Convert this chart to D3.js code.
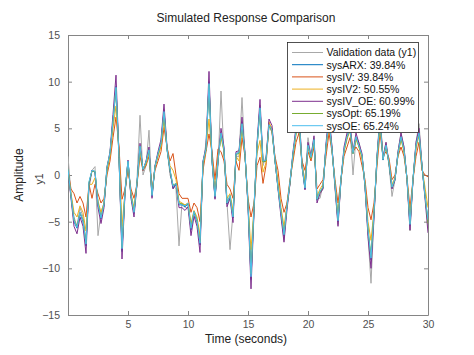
<!DOCTYPE html>
<html><head><meta charset="utf-8">
<script src="https://cdn.jsdelivr.net/npm/d3@7"></script>
<style>
html,body{margin:0;padding:0;background:#fff;}
svg{display:block;font-family:"Liberation Sans",Arial,sans-serif;}
</style></head>
<body><svg id="c" width="474" height="355"></svg>
<script>
// time grid (seconds), 0.25 s step
const time = d3.range(0, 121).map(i => i * 0.25);
const xTicks = [5, 10, 15, 20, 25, 30];
const yTicks = [-15, -10, -5, 0, 5, 10, 15];
const seriesNames = ["Validation data (y1)", "sysARX: 39.84%", "sysIV: 39.84%", "sysIV2: 50.55%", "sysIV_OE: 60.99%", "sysOpt: 65.19%", "sysOE: 65.24%"];
const seriesColors = ["#a8a8a8", "#0072BD", "#D95319", "#EDB120", "#7E2F8E", "#77AC30", "#4DBEEE"];

const validation = [
 2.0,-2.0,-4.5,-5.5,-3.5,-4.5,-7.0,-1.5,0.5,0.9,
 -6.5,-4.0,-3.0,1.0,2.0,6.0,9.0,2.5,-8.0,-1.5,
 1.5,-2.0,-4.0,-0.5,6.4,0.0,1.0,4.8,-2.0,1.0,
 2.0,3.5,7.0,3.0,0.0,-1.0,-1.5,-7.6,-3.0,-3.5,
 -3.5,-5.5,-4.0,-5.0,-7.0,1.0,3.5,9.5,2.0,-2.5,
 1.0,9.0,2.0,-3.0,-8.0,-4.0,2.0,2.0,8.3,2.0,
 -3.0,-11.0,-4.0,3.0,7.5,1.0,2.0,5.5,5.0,1.5,
 -1.0,-4.0,-7.0,-3.0,-1.0,2.0,5.0,6.5,1.5,-1.0,
 4.0,2.0,4.0,-2.5,-2.5,-1.0,3.0,6.0,3.0,-1.5,
 -5.3,-0.5,2.5,4.0,5.0,0.0,4.0,3.5,2.0,-1.0,
 -6.5,-11.6,-4.5,2.0,6.0,2.0,3.5,1.0,-2.3,-0.5,
 2.5,4.5,3.0,-0.5,-6.0,-0.5,3.5,5.5,1.0,-2.0,
 -5.5];
const sysARX = [
 0.5,-2.3,-5.0,-5.7,-4.1,-5.0,-7.6,-0.9,0.5,0.3,
 -3.2,-4.7,-3.2,0.7,2.3,5.9,9.5,1.8,-8.2,-1.8,
 1.5,-2.3,-4.1,-0.9,3.1,0.5,1.4,2.7,-2.3,0.9,
 2.3,3.4,6.9,2.7,0.5,-1.4,-0.9,-3.2,-3.2,-3.4,
 -3.1,-5.9,-4.0,-5.0,-7.5,1.4,2.7,10.0,1.5,-2.4,
 1.5,4.5,2.7,-3.1,-2.3,-4.6,2.3,2.4,5.6,2.1,
 -3.1,-11.2,-3.6,3.1,7.3,1.4,1.5,5.4,4.8,1.5,
 -1.4,-4.1,-6.5,-3.4,-0.8,2.3,4.6,6.3,0.9,-1.5,
 3.2,1.8,3.8,-2.7,-1.8,-1.4,3.1,5.9,2.7,-1.1,
 -5.0,-0.5,2.7,4.1,5.0,2.3,4.1,3.1,2.1,-1.2,
 -6.0,-9.1,-4.1,1.8,5.9,1.6,3.2,1.2,-1.4,-0.5,
 2.3,4.1,2.7,-0.5,-5.4,-0.5,3.2,4.5,0.9,-2.3,
 -5.0];
const sysIV = [
 0.5,-1.5,-2.0,-3.0,-2.3,-3.0,-4.5,-1.0,-2.5,-1.0,
 -2.0,-3.0,-2.5,0.0,1.5,4.0,6.2,3.0,-2.6,-1.5,
 0.5,-1.5,-2.5,-1.0,2.0,0.5,1.0,2.0,-1.5,0.5,
 1.5,2.5,5.1,3.0,1.5,2.3,0.0,-2.0,-2.5,-2.5,
 -2.5,-4.0,-3.0,-3.5,-5.0,0.5,2.5,4.4,2.5,-0.5,
 2.8,2.5,1.5,-1.0,-1.5,-2.5,1.5,0.5,4.0,2.0,
 -2.5,-4.5,-3.0,1.0,1.9,-0.9,1.0,5.5,4.5,2.0,
 0.5,-2.5,-4.0,-3.0,-0.5,1.5,3.5,4.5,1.5,0.5,
 2.5,1.5,3.0,-1.5,-1.0,-0.5,2.0,4.5,2.5,-0.5,
 -3.0,-0.5,2.0,3.0,4.0,2.5,3.0,2.5,1.0,-0.5,
 -3.5,-4.8,-3.0,1.0,4.5,2.0,2.5,1.8,-0.5,0.0,
 2.0,3.0,2.0,-0.3,-3.5,-0.5,2.0,3.5,0.5,0.0,
 -0.2];
const sysIV2 = [
 0.5,-2.0,-4.0,-4.5,-3.3,-4.0,-6.0,-1.0,-1.0,-0.3,
 -2.8,-4.0,-3.0,0.3,2.0,5.0,7.4,2.5,-5.5,-1.8,
 1.0,-2.0,-3.5,-1.0,2.6,0.5,1.2,2.4,-2.0,0.8,
 2.0,3.0,6.0,3.0,1.0,0.5,-0.5,-2.8,-3.0,-3.2,
 -3.0,-5.2,-3.8,-4.5,-6.5,1.0,2.8,6.0,2.0,-1.8,
 2.0,4.0,2.5,-2.5,-2.0,-3.8,2.0,1.5,5.0,2.2,
 -3.0,-8.0,-3.5,2.3,3.7,0.3,1.3,5.7,4.9,1.8,
 -0.5,-3.5,-5.5,-3.3,-0.7,2.0,4.3,5.5,1.2,-0.6,
 3.0,1.8,3.6,-2.3,-1.5,-1.0,2.8,5.5,2.8,-0.9,
 -4.3,-0.5,2.5,3.8,4.8,2.5,3.8,3.0,1.7,-0.9,
 -5.0,-7.0,-3.8,1.5,5.5,1.9,3.0,1.5,-1.0,-0.3,
 2.2,3.8,2.5,-0.4,-4.7,-0.5,2.8,4.3,0.8,-1.3,
 -3.5];
const sysIV_OE = [
 0.5,-2.5,-5.5,-6.3,-4.5,-5.5,-8.4,-1.0,0.5,0.3,
 -3.5,-5.2,-3.5,0.8,2.5,6.5,10.7,2.0,-9.0,-2.0,
 1.6,-2.5,-4.5,-1.0,3.4,0.5,1.5,3.0,-2.5,1.0,
 2.5,3.8,7.6,3.0,0.5,-1.5,-1.0,-3.5,-3.5,-3.8,
 -3.4,-6.5,-4.4,-5.5,-8.3,1.5,3.0,11.1,1.6,-2.6,
 1.6,5.0,3.0,-3.4,-2.5,-5.1,2.5,2.6,6.2,2.3,
 -3.4,-12.2,-4.0,3.4,8.1,1.5,1.6,6.0,5.3,1.6,
 -1.5,-4.5,-7.2,-3.7,-0.9,2.5,5.1,7.0,1.0,-1.6,
 3.5,2.0,4.2,-3.0,-2.0,-1.5,3.4,6.5,3.0,-1.2,
 -5.5,-0.5,3.0,4.5,5.5,2.5,4.5,3.4,2.3,-1.3,
 -6.6,-10.0,-4.5,2.0,6.5,1.8,3.5,1.3,-1.5,-0.5,
 2.5,4.5,3.0,-0.5,-5.9,-0.5,3.5,5.0,1.0,-2.5,
 -6.2];
const sysOpt = [
 0.6,-2.2,-4.8,-5.5,-4.0,-4.8,-7.3,-0.8,0.4,0.4,
 -3.0,-4.5,-3.1,0.7,2.3,5.7,9.3,1.9,-7.8,-1.8,
 1.4,-2.2,-3.9,-0.9,3.0,0.6,1.3,2.6,-2.1,0.9,
 2.2,3.3,6.6,2.8,0.5,-1.1,-0.9,-3.0,-3.1,-3.3,
 -3.0,-5.6,-3.9,-4.8,-7.2,1.3,2.7,9.7,1.6,-2.2,
 1.5,4.4,2.6,-3.0,-2.2,-4.4,2.2,2.3,5.4,2.1,
 -3.0,-10.6,-3.6,3.0,7.0,1.4,1.5,5.3,4.7,1.5,
 -1.3,-3.9,-6.3,-3.3,-0.8,2.2,4.5,6.1,1.0,-1.3,
 3.1,1.8,3.7,-2.6,-1.8,-1.3,3.0,5.7,2.6,-1.0,
 -4.8,-0.4,2.6,4.0,4.8,2.3,4.0,3.0,2.0,-1.1,
 -5.8,-8.7,-3.9,1.8,5.7,1.7,3.1,1.2,-1.3,-0.4,
 2.2,4.0,2.6,-0.4,-5.2,-0.4,3.1,4.4,0.9,-2.1,
 -5.2];
const sysOE = [
 0.6,-2.2,-4.9,-5.6,-4.0,-4.9,-7.4,-0.7,0.5,0.4,
 -3.1,-4.6,-3.1,0.8,2.4,5.8,9.4,1.9,-7.9,-1.7,
 1.5,-2.2,-4.0,-0.8,3.1,0.6,1.4,2.7,-2.2,0.9,
 2.3,3.4,6.8,2.8,0.6,-1.2,-0.9,-3.1,-3.2,-3.3,
 -3.0,-5.7,-3.9,-4.9,-7.3,1.4,2.8,9.8,1.6,-2.3,
 1.6,4.5,2.7,-3.0,-2.2,-4.5,2.3,2.4,5.5,2.2,
 -3.0,-10.9,-3.5,3.1,7.2,1.5,1.6,5.4,4.8,1.6,
 -1.3,-4.0,-6.4,-3.3,-0.7,2.3,4.6,6.2,1.0,-1.4,
 3.2,1.9,3.8,-2.6,-1.7,-1.3,3.1,5.8,2.7,-1.0,
 -4.9,-0.4,2.7,4.1,4.9,2.4,4.1,3.1,2.1,-1.1,
 -5.9,-8.9,-4.0,1.9,5.8,1.7,3.2,1.3,-1.3,-0.4,
 2.3,4.1,2.7,-0.4,-5.3,-0.4,3.2,4.5,1.0,-2.2,
 -4.8];

const allSeries = [validation, sysARX, sysIV, sysIV2, sysIV_OE, sysOpt, sysOE];

const svg = d3.select("#c");
const L = 68, R = 428, T = 35, B = 315;
const x = d3.scaleLinear().domain([0, 30]).range([L, R]);
const y = d3.scaleLinear().domain([-15, 15]).range([B, T]);
const axisCol = "#858585", tickTxt = "#505050";

svg.append("clipPath").attr("id", "clip").append("rect")
  .attr("x", L).attr("y", T).attr("width", R - L).attr("height", B - T);

// axes with inward ticks, mirrored on top/right
function styleAxis(g, showText) {
  g.selectAll(".domain").attr("stroke", axisCol);
  g.selectAll(".tick line").attr("stroke", axisCol);
  g.selectAll(".tick text").attr("fill", tickTxt).style("font-size", "10.5px")
    .style("font-family", "'Liberation Sans',Arial,sans-serif");
  if (!showText) g.selectAll(".tick text").remove();
}
const gxb = svg.append("g").attr("transform", `translate(0,${B})`)
  .call(d3.axisBottom(x).tickValues(xTicks).tickSize(-4).tickPadding(6).tickSizeOuter(0));
styleAxis(gxb, true);
const gxt = svg.append("g").attr("transform", `translate(0,${T})`)
  .call(d3.axisTop(x).tickValues(xTicks).tickSize(-4).tickSizeOuter(0));
styleAxis(gxt, false);
const gyl = svg.append("g").attr("transform", `translate(${L},0)`)
  .call(d3.axisLeft(y).tickValues(yTicks).tickSize(-4).tickPadding(8).tickSizeOuter(0));
styleAxis(gyl, true);
const gyr = svg.append("g").attr("transform", `translate(${R},0)`)
  .call(d3.axisRight(y).tickValues(yTicks).tickSize(-4).tickSizeOuter(0));
styleAxis(gyr, false);

// lines
const line = d3.line().x((d, i) => x(time[i])).y(d => y(d));
const plot = svg.append("g").attr("clip-path", "url(#clip)");
allSeries.forEach((s, k) => {
  plot.append("path").datum(s).attr("d", line)
    .attr("fill", "none").attr("stroke", seriesColors[k])
    .attr("stroke-width", 1).attr("stroke-linejoin", "round");
});

// texts
svg.append("text").attr("x", 246).attr("y", 22).attr("text-anchor", "middle")
  .attr("fill", "#222").style("font-size", "12px").text("Simulated Response Comparison");
svg.append("text").attr("x", 246).attr("y", 343).attr("text-anchor", "middle")
  .attr("fill", "#222").style("font-size", "12px").text("Time (seconds)");
svg.append("text").attr("transform", "translate(23,175) rotate(-90)").attr("text-anchor", "middle")
  .attr("fill", "#222").style("font-size", "12px").text("Amplitude");
svg.append("text").attr("transform", "translate(43,179) rotate(-90)").attr("text-anchor", "middle")
  .attr("fill", "#333").style("font-size", "10.5px").text("y1");

// legend
const lg = svg.append("g");
lg.append("rect").attr("x", 287.5).attr("y", 42.5).attr("width", 131).attr("height", 90)
  .attr("fill", "#fff").attr("stroke", "#262626").attr("stroke-width", 0.8);
seriesNames.forEach((n, k) => {
  const cy = 52.5 + k * 12.2;
  lg.append("line").attr("x1", 292).attr("x2", 323).attr("y1", cy).attr("y2", cy)
    .attr("stroke", seriesColors[k]).attr("stroke-width", 1);
  lg.append("text").attr("x", 326.5).attr("y", cy + 3.8).attr("fill", "#111")
    .style("font-size", "10.5px").text(n);
});
</script></body></html>
